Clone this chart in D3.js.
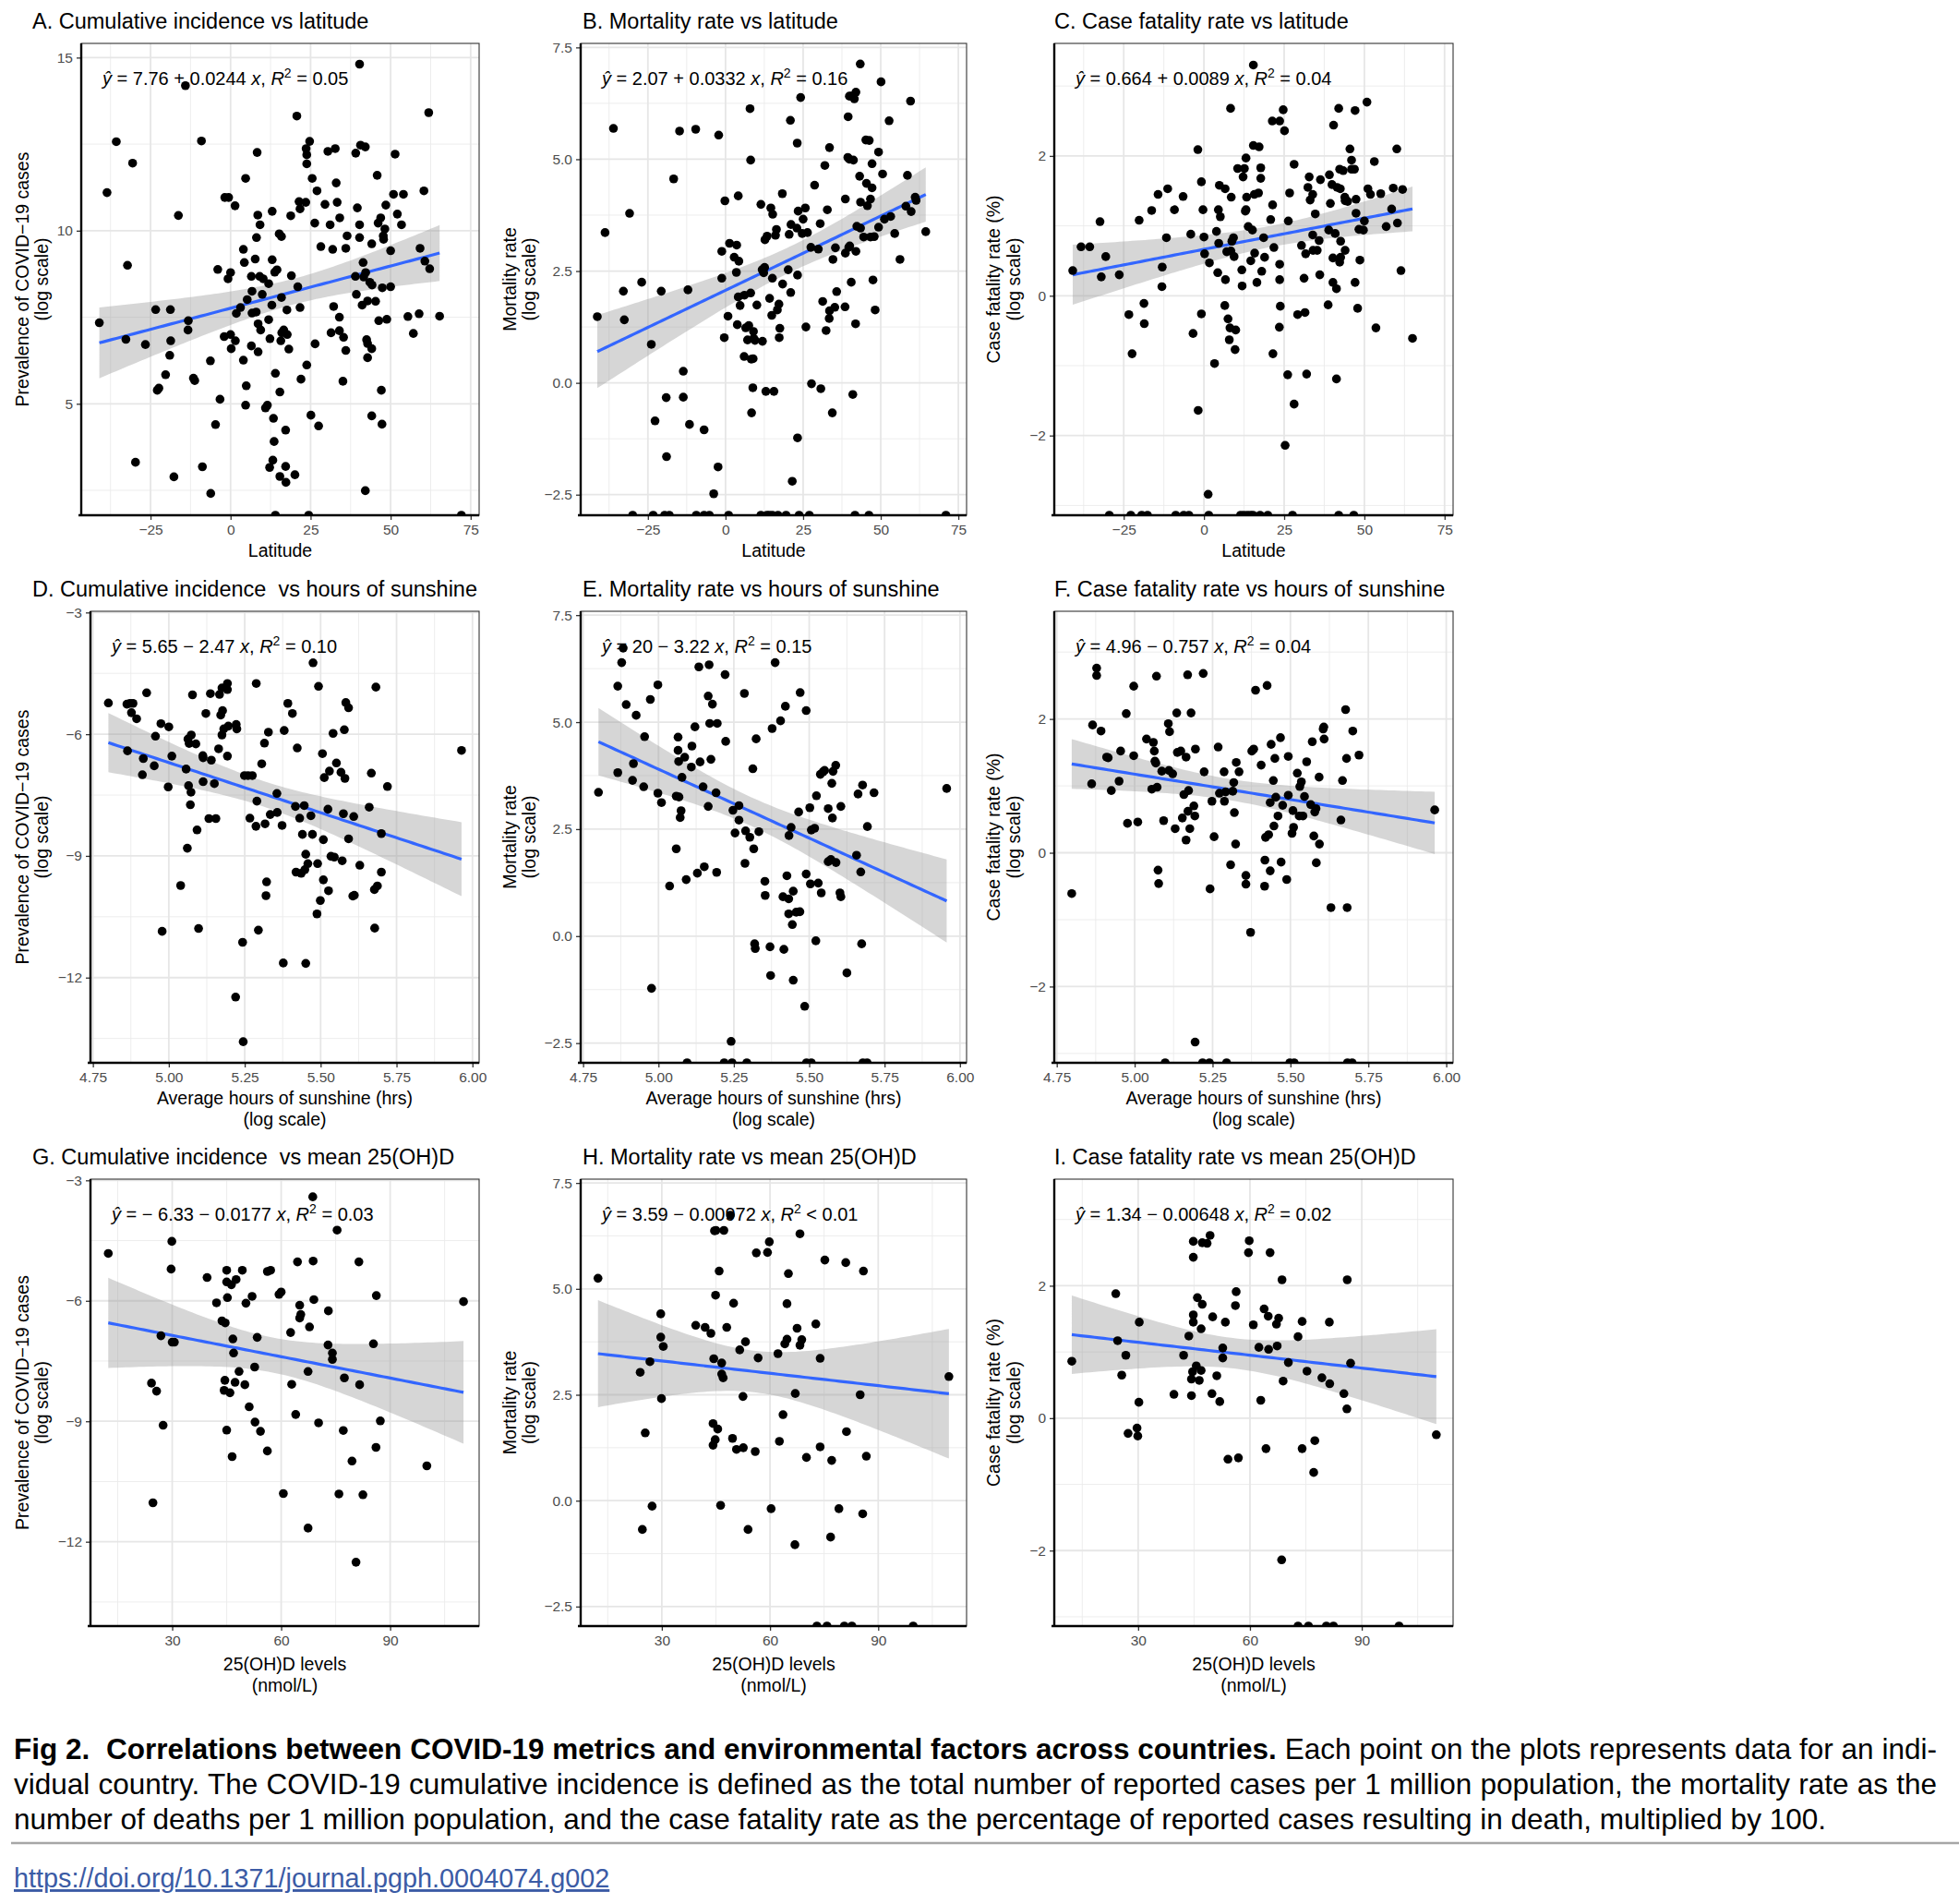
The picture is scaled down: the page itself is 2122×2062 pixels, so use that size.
<!DOCTYPE html>
<html>
<head>
<meta charset="utf-8">
<script src="https://cdn.jsdelivr.net/npm/d3@7"></script>
<style>
body { margin: 0; background: #fff; }
svg { display: block; font-family: "Liberation Sans", Arial, Helvetica, sans-serif; }
text { white-space: pre; }
</style>
</head>
<body>
<svg id="fig" width="2122" height="2062"></svg>
<script>
// ---- data: [x, y] per country ----
// A. latitude vs cumulative incidence (log)
var incLat = [[-41,7.34],[-38.6,11.1],[-35.7,12.57],[-32.7,6.86],[-32.2,9.0],[-30.6,11.95],[-29.7,3.31],[-26.6,6.71],[-23.4,7.72],[-22.9,5.39],[-22.4,5.45],[-20.3,5.84],[-19.0,6.40],[-18.8,7.72],[-18.7,6.82],[-17.7,2.89],[-16.3,10.44],[-14.1,14.19],[-13.2,7.40],[-13.3,7.13],[-11.6,5.74],[-11.2,5.67],[-9.1,12.59],[-8.8,3.18],[-6.3,6.24],[-6.2,2.41],[-4.7,4.40],[-4.0,8.88],[-3.3,5.13],[-1.8,10.96],[-0.6,10.96],[-2.0,6.94],[-0.8,8.61],[0,8.79],[0,7.0],[0.2,6.59],[1.5,6.82],[1.4,10.72],[1.8,7.61],[3.1,7.78],[4.0,6.26],[4.0,9.46],[4.3,9.08],[4.7,11.51],[4.7,4.96],[4.9,5.52],[5.2,8.01],[6.5,8.68],[6.5,6.67],[6.7,7.62],[6.7,8.25],[7.7,9.18],[8.0,7.65],[8.3,12.26],[8.1,9.80],[8.5,10.45],[8.6,6.50],[8.6,7.31],[9.1,8.68],[9.2,10.17],[9.4,7.13],[9.9,8.16],[10.2,8.61],[10.9,4.88],[11.5,4.96],[11.9,8.47],[11.9,7.43],[12.2,3.16],[12.3,6.88],[12.9,7.85],[13.0,10.56],[13.0,9.16],[13.2,3.37],[13.4,4.58],[13.6,3.91],[13.8,8.80],[14.0,5.88],[14.5,8.87],[15.2,9.91],[15.9,9.83],[15.4,5.34],[15.4,2.90],[15.7,6.82],[15.9,8.07],[16.0,7.05],[16.6,7.13],[17.2,4.24],[17.2,3.19],[17.3,2.73],[17.6,7.71],[17.7,7.00],[18.2,6.58],[19.0,8.70],[18.8,10.43],[20.1,2.95],[20.7,13.31],[21.0,8.38],[21.4,10.84],[21.7,10.63],[21.7,7.78],[22.0,5.71],[23.5,10.82],[23.6,12.37],[23.8,12.19],[23.8,11.93],[23.8,6.12],[24.7,12.58],[25.1,4.67],[25.5,11.51],[26.3,10.22],[26.4,6.73],[27.0,11.15],[27.5,4.36],[28.2,9.54],[29.5,10.76],[30.4,12.29],[31.1,10.17],[31.4,7.05],[31.9,9.46],[32.2,7.81],[32.7,12.37],[33.0,11.38],[33.3,10.82],[34.0,7.50],[34.0,7.11],[34.1,10.37],[35.1,5.65],[35.3,6.92],[36.0,6.54],[36.0,9.49],[36.4,9.85],[39.0,8.68],[39.1,12.24],[39.3,8.16],[39.6,10.66],[40.3,14.81],[40.3,10.17],[40.3,9.80],[40.6,12.47],[41.1,7.85],[41.4,9.08],[41.6,8.66],[42.1,12.42],[42.1,2.49],[42.2,8.79],[42.5,6.85],[42.8,6.74],[42.8,6.33],[42.8,7.97],[43.5,8.51],[44.1,4.65],[44.1,6.59],[44.1,9.62],[44.2,8.43],[45.3,7.96],[45.8,11.60],[46.1,10.22],[46.3,7.40],[46.9,10.37],[47.1,5.39],[47.3,4.41],[47.4,8.35],[47.7,9.85],[47.8,9.75],[48.2,10.05],[48.5,10.74],[48.8,7.44],[50.0,8.38],[50.0,9.42],[50.9,11.05],[51.4,12.21],[52.1,10.48],[53.4,10.17],[54.0,11.05],[55.4,7.52],[57.1,7.03],[58.9,7.60],[59.2,9.49],[60.4,11.15],[60.7,9.12],[61.9,13.41],[62.2,8.90],[65.3,7.53]];
var incLatZero = [14.0, 24.4, 72.1];

// B. latitude vs mortality rate (log)
var mortLat = [[-41.3,1.48],[-38.8,3.36],[-36.1,5.69],[-32.9,2.05],[-32.6,1.41],[-30.9,3.79],[-27.0,2.25],[-23.9,0.86],[-22.7,-0.85],[-20.7,2.05],[-19.1,-0.33],[-19.0,-1.65],[-16.7,4.56],[-14.8,5.63],[-13.6,0.26],[-13.6,-0.32],[-12.1,2.08],[-11.6,-0.93],[-9.6,5.67],[-6.9,-1.05],[-3.8,-2.48],[-2.4,-1.88],[-2.2,5.54],[-1.2,2.94],[-1.2,2.34],[-0.4,1.01],[-0.2,4.07],[0.8,1.49],[1.3,3.12],[2.8,2.81],[3.6,3.08],[3.5,2.47],[3.8,1.30],[4.1,4.18],[4.3,2.72],[4.1,1.92],[4.7,1.73],[6.0,0.59],[6.1,1.96],[6.5,1.23],[7.5,1.28],[7.1,0.96],[7.9,6.13],[8.1,4.98],[8.1,2.01],[8.3,0.53],[8.4,-0.67],[8.9,0.54],[8.8,-0.11],[9.0,1.15],[9.1,0.99],[9.5,0.95],[10.1,1.74],[11.4,3.99],[11.8,2.53],[12.3,2.46],[12.6,2.58],[11.9,0.93],[12.7,3.20],[13.0,-0.19],[13.4,3.28],[14.2,1.89],[14.6,3.91],[14.9,1.51],[15.2,3.77],[15.1,2.34],[15.6,-0.19],[16.1,3.30],[16.4,3.43],[16.7,1.63],[17.2,1.76],[17.3,1.01],[17.5,1.22],[18.3,4.23],[18.4,2.21],[20.2,2.53],[20.5,3.32],[20.9,5.87],[21.0,2.02],[21.1,3.54],[21.5,-2.20],[23.0,3.46],[23.1,5.36],[23.2,2.41],[23.2,-1.23],[23.4,3.84],[24.2,6.38],[24.7,3.34],[25.0,3.66],[25.7,3.91],[25.9,1.25],[26.4,3.36],[27.5,3.03],[27.7,-0.02],[28.7,4.42],[29.9,2.99],[30.5,3.56],[30.7,-0.13],[31.3,1.82],[32.0,4.86],[32.4,1.17],[32.8,3.87],[33.4,1.44],[33.5,1.61],[33.5,5.26],[34.4,-0.67],[34.6,2.76],[35.2,1.69],[35.4,3.02],[35.8,2.04],[38.5,1.70],[38.6,4.11],[38.6,2.90],[39.4,5.04],[39.9,5.00],[39.5,5.95],[39.9,6.41],[40.5,6.41],[39.7,3.03],[40.0,3.06],[40.5,2.25],[41.0,-0.26],[41.2,4.98],[41.5,6.35],[41.9,1.32],[42.0,6.50],[42.0,2.94],[42.3,3.50],[43.2,4.62],[43.4,7.13],[43.5,3.46],[43.5,4.04],[44.5,3.26],[45.2,5.43],[46.3,5.42],[45.4,4.46],[45.7,3.96],[46.7,4.11],[46.7,3.26],[47.2,4.90],[47.2,4.36],[47.5,2.30],[47.9,3.27],[48.2,1.63],[49.3,5.16],[49.3,3.48],[50.1,6.73],[50.6,4.67],[51.2,3.66],[52.7,5.86],[53.2,3.72],[54.5,3.34],[56.2,2.76],[58.1,3.95],[58.6,4.64],[59.6,6.30],[59.8,3.83],[61.1,4.15],[61.4,4.08],[64.5,3.38]];
var mortLatZero = [-29.9,-23.3,-19.6,-18.1,-9.4,-6.9,-5.2,1.0,11.4,13.3,14.1,15.1,16.9,19.5,23.7,27.0,41.7,46.2,71.0];

// C. latitude vs case fatality rate (log)
var cfrLat = [[-40.9,0.36],[-38.3,0.70],[-35.6,0.70],[-32.4,1.06],[-32.0,0.27],[-30.6,0.56],[-26.4,0.30],[-23.4,-0.27],[-22.4,-0.83],[-20.2,1.08],[-18.7,-0.11],[-18.6,-0.40],[-16.3,1.22],[-14.3,1.45],[-13.1,0.13],[-13.0,0.41],[-11.7,0.83],[-11.3,1.53],[-9.2,1.23],[-6.5,1.42],[-4.1,0.88],[-3.4,-0.54],[-1.9,2.09],[-1.8,-1.64],[-0.8,-0.26],[-0.8,1.63],[-0.3,1.23],[0,0.84],[0.2,0.60],[1.3,-2.84],[1.7,0.47],[3.3,-0.97],[3.9,0.92],[4.3,0.33],[4.5,1.23],[4.6,0.75],[4.8,1.58],[5.1,1.13],[6.6,1.53],[6.5,-0.14],[6.7,0.23],[7.1,0.63],[7.5,-0.33],[7.9,-0.63],[8.1,-0.46],[8.3,2.68],[8.4,0.64],[8.5,1.41],[8.7,0.78],[9.2,0.83],[9.4,0.56],[9.7,-0.77],[9.9,-0.49],[10.5,1.82],[11.8,0.37],[11.9,0.14],[12.2,1.70],[12.6,1.82],[12.9,1.21],[13.1,1.23],[13.1,1.97],[13.3,1.41],[13.8,0.99],[14.6,0.50],[15.1,0.94],[15.4,3.30],[15.4,2.15],[15.7,1.45],[15.8,0.61],[16.5,0.19],[17.0,1.47],[17.2,2.13],[17.7,1.83],[17.7,1.68],[18.0,0.35],[18.6,0.83],[18.9,0.55],[20.8,1.09],[21.3,2.50],[21.4,1.30],[21.5,-0.83],[21.8,0.69],[23.6,2.50],[23.6,0.45],[23.6,0.23],[23.8,-0.15],[23.5,-0.45],[24.7,2.66],[25.1,2.36],[25.3,-2.14],[26.1,-1.13],[26.3,1.07],[26.7,1.47],[28.1,1.88],[28.1,-1.55],[29.2,-0.27],[30.4,0.72],[31.2,0.25],[31.5,-0.24],[31.7,0.60],[32.0,-1.12],[32.4,1.55],[32.8,1.70],[33.1,1.37],[33.9,0.87],[33.9,1.45],[34.0,0.65],[34.7,1.17],[35.3,0.65],[35.9,0.79],[36.1,0.30],[36.3,1.66],[38.7,-0.13],[39.1,1.73],[39.4,1.32],[38.9,0.94],[39.9,1.59],[40.2,0.19],[40.2,0.54],[40.4,2.44],[40.9,0.89],[41.3,0.10],[41.3,-1.19],[41.5,1.55],[42.0,2.68],[42.3,1.81],[42.5,1.53],[42.6,0.78],[42.6,0.55],[42.3,0.48],[43.4,1.79],[43.9,1.41],[44.0,0.65],[44.0,1.36],[44.8,1.35],[45.5,2.10],[46.0,1.81],[46.0,1.94],[46.9,1.81],[47.1,0.19],[47.1,2.65],[47.4,1.38],[47.4,1.18],[47.9,-0.18],[48.3,0.95],[48.6,0.51],[49.7,0.94],[50.0,1.07],[50.8,2.77],[51.1,1.53],[51.9,1.45],[53.1,1.92],[53.6,-0.46],[55.1,1.46],[56.8,0.99],[58.5,1.24],[59.0,1.54],[60.1,2.10],[60.3,1.04],[61.4,0.36],[61.9,1.52],[65.0,-0.61]];
var cfrLatZero = [-29.5,-22.8,-19.4,-17.6,-8.8,-6.3,-4.7,1.5,11.4,12.4,13.5,14.5,15.3,17.5,19.9,27.6,42.0,46.7];

// D. sunshine (log) vs cumulative incidence (log)
var incSun = [[4.801,-5.23],[4.862,-5.26],[4.872,-5.24],[4.882,-5.24],[4.877,-5.47],[4.894,-5.62],[4.864,-6.41],[4.927,-4.98],[4.956,-6.05],[4.916,-6.60],[4.974,-5.74],[5.000,-5.82],[4.952,-6.78],[5.010,-6.54],[4.913,-7.00],[4.998,-7.30],[4.978,-10.86],[5.039,-9.73],[5.061,-8.81],[5.057,-6.86],[5.063,-6.12],[5.074,-6.02],[5.067,-6.23],[5.065,-7.27],[5.073,-7.43],[5.071,-7.74],[5.078,-5.03],[5.089,-6.24],[5.093,-8.36],[5.098,-10.79],[5.112,-6.53],[5.113,-7.17],[5.113,-6.58],[5.122,-5.49],[5.132,-8.08],[5.155,-8.08],[5.137,-5.00],[5.140,-6.64],[5.150,-7.22],[5.164,-6.36],[5.167,-5.02],[5.171,-5.53],[5.175,-6.02],[5.175,-4.86],[5.177,-5.42],[5.181,-5.87],[5.193,-4.90],[5.193,-4.75],[5.193,-6.54],[5.196,-5.80],[5.222,-5.76],[5.224,-5.87],[5.220,-12.48],[5.243,-11.13],[5.245,-13.58],[5.249,-7.02],[5.261,-7.02],[5.275,-7.02],[5.267,-8.07],[5.288,-4.75],[5.290,-7.65],[5.287,-8.27],[5.295,-10.83],[5.306,-6.73],[5.315,-6.22],[5.317,-8.21],[5.322,-9.64],[5.320,-9.98],[5.328,-5.95],[5.334,-7.98],[5.357,-7.93],[5.356,-7.46],[5.373,-8.25],[5.377,-11.64],[5.380,-5.91],[5.392,-5.24],[5.407,-5.49],[5.417,-7.78],[5.423,-6.34],[5.419,-9.40],[5.431,-8.07],[5.436,-9.43],[5.440,-8.47],[5.446,-7.76],[5.448,-9.34],[5.451,-11.65],[5.451,-8.96],[5.458,-9.19],[5.468,-8.01],[5.473,-8.47],[5.475,-4.24],[5.488,-10.43],[5.490,-9.19],[5.493,-4.82],[5.499,-10.10],[5.506,-6.48],[5.509,-8.60],[5.509,-9.59],[5.512,-7.07],[5.524,-7.85],[5.526,-9.86],[5.529,-6.91],[5.534,-9.01],[5.545,-9.03],[5.541,-5.98],[5.552,-6.71],[5.567,-6.94],[5.571,-9.12],[5.575,-7.96],[5.578,-5.89],[5.580,-7.09],[5.583,-5.22],[5.592,-5.35],[5.592,-8.58],[5.606,-9.99],[5.611,-9.97],[5.609,-8.03],[5.629,-9.23],[5.660,-7.80],[5.667,-6.96],[5.677,-9.83],[5.687,-9.74],[5.678,-10.78],[5.682,-4.84],[5.700,-8.45],[5.700,-9.40],[5.720,-7.29],[5.964,-6.40]];

// E. sunshine (log) vs mortality rate (log)
var mortSun = [[4.801,3.36],[4.883,6.73],[4.865,5.84],[4.865,3.82],[4.878,6.39],[4.893,5.41],[4.914,3.64],[4.917,4.03],[4.926,5.16],[4.954,4.66],[4.951,3.49],[4.973,5.53],[4.977,-1.22],[4.998,5.87],[4.998,3.34],[5.010,3.12],[5.037,1.17],[5.059,2.04],[5.059,3.27],[5.065,4.65],[5.065,4.34],[5.067,4.08],[5.068,3.25],[5.072,2.77],[5.075,2.93],[5.078,3.71],[5.087,4.18],[5.092,1.32],[5.109,3.95],[5.111,4.44],[5.121,4.89],[5.129,1.47],[5.134,6.29],[5.138,4.07],[5.148,3.49],[5.152,1.62],[5.165,3.03],[5.168,6.34],[5.165,5.61],[5.170,4.97],[5.174,4.13],[5.179,5.42],[5.191,3.35],[5.193,1.49],[5.195,4.97],[5.221,6.11],[5.223,4.55],[5.241,-2.46],[5.247,2.94],[5.254,2.41],[5.267,3.05],[5.267,2.71],[5.285,5.67],[5.287,1.70],[5.289,2.46],[5.303,2.31],[5.313,3.91],[5.316,2.04],[5.319,-0.18],[5.321,-0.29],[5.324,4.61],[5.333,2.44],[5.353,1.28],[5.354,0.95],[5.370,-0.25],[5.372,-0.92],[5.377,4.85],[5.387,6.39],[5.405,5.03],[5.413,0.92],[5.416,-0.31],[5.421,5.37],[5.426,1.41],[5.432,0.87],[5.432,0.52],[5.433,2.35],[5.440,2.54],[5.444,0.27],[5.447,1.05],[5.447,-1.03],[5.457,0.56],[5.465,2.90],[5.469,0.57],[5.470,5.69],[5.485,-1.64],[5.490,5.27],[5.490,1.45],[5.502,3.00],[5.504,1.22],[5.507,2.48],[5.518,2.52],[5.522,-0.11],[5.524,3.28],[5.530,1.24],[5.537,3.78],[5.546,3.84],[5.540,1.01],[5.551,3.87],[5.563,2.98],[5.563,1.74],[5.572,1.79],[5.575,3.57],[5.577,2.76],[5.579,3.85],[5.588,3.99],[5.589,1.72],[5.602,1.01],[5.605,0.92],[5.605,3.03],[5.625,-0.86],[5.657,1.89],[5.662,3.32],[5.671,1.50],[5.674,-0.18],[5.677,3.53],[5.693,2.56],[5.715,3.35],[5.956,3.45]];
var mortSunZero = [5.095,5.218,5.244,5.293,5.491,5.507,5.678,5.692];

// F. sunshine (log) vs case fatality rate (log)
var cfrSun = [[4.798,-0.61],[4.862,1.03],[4.865,1.91],[4.878,2.76],[4.878,2.65],[4.892,1.82],[4.910,1.43],[4.915,1.42],[4.925,0.93],[4.950,1.07],[4.955,1.52],[4.973,2.08],[4.977,0.44],[4.997,2.49],[4.997,1.45],[5.010,0.46],[5.038,1.70],[5.055,0.95],[5.060,1.65],[5.063,1.52],[5.065,1.37],[5.068,1.34],[5.070,2.64],[5.072,0.98],[5.075,-0.26],[5.077,-0.46],[5.087,1.22],[5.093,0.48],[5.108,1.93],[5.112,1.81],[5.110,1.23],[5.122,1.18],[5.130,0.36],[5.135,2.09],[5.137,1.50],[5.148,1.52],[5.153,0.52],[5.158,0.87],[5.165,0.19],[5.165,1.43],[5.170,2.66],[5.171,0.62],[5.173,0.93],[5.177,0.36],[5.181,2.09],[5.190,0.70],[5.193,0.55],[5.194,-2.83],[5.195,1.55],[5.220,2.68],[5.223,1.21],[5.242,-0.54],[5.248,0.77],[5.255,0.24],[5.268,1.58],[5.272,0.89],[5.287,1.21],[5.288,0.77],[5.292,0.91],[5.308,-0.18],[5.315,0.92],[5.318,1.05],[5.320,0.60],[5.324,0.13],[5.326,1.35],[5.335,1.21],[5.357,-0.34],[5.357,-0.47],[5.376,1.52],[5.382,1.55],[5.372,-1.19],[5.388,2.43],[5.406,1.31],[5.418,-0.11],[5.417,-0.50],[5.420,0.23],[5.425,2.50],[5.430,0.27],[5.435,0.75],[5.438,1.62],[5.435,-0.27],[5.445,1.08],[5.447,0.40],[5.450,1.41],[5.453,0.83],[5.460,0.55],[5.468,1.72],[5.470,-0.14],[5.475,0.71],[5.488,-0.40],[5.493,1.44],[5.493,0.86],[5.505,0.29],[5.508,0.63],[5.510,0.38],[5.522,1.19],[5.530,0.99],[5.535,1.06],[5.528,0.55],[5.540,0.55],[5.545,0.84],[5.552,1.36],[5.565,0.72],[5.570,1.66],[5.575,0.25],[5.578,0.61],[5.582,0.66],[5.583,-0.15],[5.592,1.13],[5.593,0.13],[5.605,1.85],[5.607,1.88],[5.608,1.70],[5.630,-0.82],[5.662,0.49],[5.667,1.08],[5.677,2.14],[5.680,1.41],[5.682,-0.82],[5.700,1.82],[5.720,1.46],[5.963,0.64]];
var cfrSunZero = [5.098,5.218,5.240,5.295,5.498,5.512,5.683,5.698];

// G. 25(OH)D vs cumulative incidence (log)
var incVitD = [[12.4,-4.82],[24.3,-8.05],[24.7,-11.03],[25.7,-8.25],[26.9,-6.87],[27.5,-9.10],[29.9,-4.52],[29.7,-5.21],[30.0,-7.03],[30.6,-7.03],[39.6,-5.42],[42.2,-6.05],[43.7,-6.50],[44.5,-7.98],[44.6,-6.55],[44.3,-8.23],[45.0,-5.24],[45.0,-5.53],[45.2,-5.92],[45.0,-9.22],[45.9,-8.29],[46.3,-5.60],[46.7,-6.95],[46.5,-9.88],[46.9,-7.30],[47.3,-8.03],[47.6,-5.47],[48.4,-7.76],[49.3,-5.24],[50.0,-8.09],[50.3,-6.06],[51.2,-8.64],[52.0,-5.89],[52.7,-7.65],[52.8,-9.02],[53.4,-6.91],[54.3,-9.25],[56.2,-5.27],[57.1,-5.24],[56.2,-9.74],[59.4,-5.84],[60.0,-5.78],[60.6,-10.80],[62.6,-6.79],[62.9,-8.08],[64.0,-8.83],[64.5,-5.03],[65.1,-6.43],[65.4,-6.34],[65.1,-6.11],[67.4,-7.76],[67.4,-11.66],[67.8,-6.65],[68.8,-5.01],[68.7,-3.41],[69.0,-5.97],[70.3,-9.04],[73.0,-6.25],[72.9,-7.10],[74.1,-7.30],[74.1,-7.46],[75.4,-4.24],[75.9,-10.81],[77.1,-9.23],[77.4,-7.92],[79.5,-9.99],[80.6,-12.51],[81.4,-5.03],[81.6,-8.09],[82.5,-10.83],[85.4,-7.07],[86.1,-9.65],[86.2,-5.87],[87.3,-8.99],[100.1,-10.11],[110.2,-6.02]];

// H. 25(OH)D vs mortality rate (log)
var mortVitD = [[12.3,5.25],[24.0,3.03],[24.6,-0.68],[25.4,1.60],[26.7,3.28],[27.3,-0.13],[29.7,3.86],[29.7,4.41],[29.9,2.41],[30.4,3.64],[39.4,4.14],[42.0,4.09],[43.6,3.95],[44.2,1.82],[44.2,1.31],[44.4,3.35],[44.6,6.37],[45.0,6.38],[44.9,4.85],[44.8,1.44],[45.5,1.69],[45.9,5.42],[46.3,-0.11],[46.6,3.25],[46.6,2.99],[47.0,2.90],[47.2,6.38],[48.0,4.09],[49.0,6.74],[49.9,4.66],[49.6,1.47],[50.7,1.21],[51.6,3.56],[52.5,2.46],[52.6,1.25],[53.2,3.75],[53.9,-0.68],[55.9,1.16],[56.2,5.85],[56.7,3.37],[59.3,5.86],[59.8,6.11],[60.3,-0.19],[62.2,3.47],[62.6,1.40],[63.6,2.03],[64.1,3.70],[64.7,4.65],[64.7,3.81],[65.1,5.36],[66.9,-1.04],[67.0,2.53],[67.5,4.07],[68.3,6.30],[68.3,3.67],[68.8,3.80],[70.1,1.02],[72.7,4.17],[73.9,3.36],[73.9,1.27],[75.2,5.68],[76.8,-0.86],[77.1,0.95],[79.1,-0.19],[81.0,5.62],[81.2,1.63],[85.0,2.50],[85.7,-0.31],[85.9,5.42],[86.7,1.05],[109.6,2.93]];
var mortVitDZero = [73.0,75.8,80.6,82.7,99.7];

// I. 25(OH)D vs case fatality rate (log)
var cfrVitD = [[12.2,0.86],[24.0,1.88],[24.5,1.17],[25.6,0.65],[26.7,0.95],[27.3,-0.23],[29.7,-0.15],[29.9,-0.27],[30.3,1.45],[30.2,0.24],[39.6,0.36],[42.2,0.95],[43.6,1.24],[44.3,0.34],[44.3,0.59],[44.6,0.70],[44.8,2.67],[44.8,2.43],[44.8,1.56],[44.8,1.45],[45.6,0.79],[45.9,1.82],[46.4,0.57],[46.9,1.35],[46.9,0.72],[47.2,1.72],[47.2,2.65],[48.5,2.64],[49.3,2.76],[49.8,0.37],[50.0,1.53],[51.1,0.64],[51.9,0.25],[52.7,1.06],[52.7,0.91],[53.4,1.45],[54.1,-0.62],[56.1,1.70],[56.3,1.91],[56.9,-0.60],[59.6,2.50],[59.8,2.68],[60.9,1.41],[62.4,1.07],[62.9,0.27],[63.8,1.65],[64.3,-0.46],[64.9,1.54],[65.0,1.04],[65.4,2.50],[67.1,1.42],[67.3,1.09],[67.7,1.51],[68.6,2.09],[68.5,-2.14],[68.9,0.56],[70.3,0.84],[72.9,1.23],[74.0,1.46],[74.0,-0.46],[75.3,0.71],[77.1,-0.82],[77.4,-0.34],[79.3,0.61],[81.4,0.52],[81.3,1.45],[85.2,0.37],[86.0,0.14],[86.1,2.09],[87.0,0.83],[110.0,-0.25]];
var cfrVitDZero = [72.9,75.7,80.5,82.4,100.0];

// fitted lines printed on each panel (A..I)
var fitIntercepts = [7.76, 2.07, 0.664, 5.65, 20, 4.96, -6.33, 3.59, 1.34];
var fitSlopes = [0.0244, 0.0332, 0.0089, -2.47, -3.22, -0.757, -0.0177, -0.00972, -0.00648];
var fitText = ["7.76 + 0.0244", "2.07 + 0.0332", "0.664 + 0.0089", "5.65 \u2212 2.47", "20 \u2212 3.22",
  "4.96 \u2212 0.757", "\u2212 6.33 \u2212 0.0177", "3.59 \u2212 0.00972", "1.34 \u2212 0.00648"];
var r2Text = ["= 0.05", "= 0.16", "= 0.04", "= 0.10", "= 0.15", "= 0.04", "= 0.03", "< 0.01", "= 0.02"];

var panelTitles = ["A. Cumulative incidence vs latitude", "B. Mortality rate vs latitude", "C. Case fatality rate vs latitude",
  "D. Cumulative incidence  vs hours of sunshine", "E. Mortality rate vs hours of sunshine", "F. Case fatality rate vs hours of sunshine",
  "G. Cumulative incidence  vs mean 25(OH)D", "H. Mortality rate vs mean 25(OH)D", "I. Case fatality rate vs mean 25(OH)D"];

var xTitles = [["Latitude"], ["Average hours of sunshine (hrs)", "(log scale)"], ["25(OH)D levels", "(nmol/L)"]];
var yTitles = [["Prevalence of COVID\u221219 cases", "(log scale)"], ["Mortality rate", "(log scale)"], ["Case fatality rate (%)", "(log scale)"]];

var xTicks = [[-25, 0, 25, 50, 75], [4.75, 5.00, 5.25, 5.50, 5.75, 6.00], [30, 60, 90]];
var xFormats = ["d", ".2f", "d"];
var xDomains = [[-46.65, 77.65], [4.742, 6.022], [7.5, 114.5]];

var yTicksA = [5, 10, 15];
var yTicksInc = [-12, -9, -6, -3];
var yTicksMort = [-2.5, 0, 2.5, 5, 7.5];
var yTicksCfr = [-2, 0, 2];

var panels = [
  { pts: incLat, zero: incLatZero, yTicks: yTicksA, yFmt: "d", yDom: [1.78, 15.41] },
  { pts: mortLat, zero: mortLatZero, yTicks: yTicksMort, yFmt: ".1f", yDom: [-2.96, 7.59] },
  { pts: cfrLat, zero: cfrLatZero, yTicks: yTicksCfr, yFmt: "d", yDom: [-3.14, 3.61] },
  { pts: incSun, zero: [], yTicks: yTicksInc, yFmt: "d", yDom: [-14.1, -2.97] },
  { pts: mortSun, zero: mortSunZero, yTicks: yTicksMort, yFmt: ".1f", yDom: [-2.96, 7.59] },
  { pts: cfrSun, zero: cfrSunZero, yTicks: yTicksCfr, yFmt: "d", yDom: [-3.14, 3.61] },
  { pts: incVitD, zero: [], yTicks: yTicksInc, yFmt: "d", yDom: [-14.1, -2.97] },
  { pts: mortVitD, zero: mortVitDZero, yTicks: yTicksMort, yFmt: ".1f", yDom: [-2.96, 7.59] },
  { pts: cfrVitD, zero: cfrVitDZero, yTicks: yTicksCfr, yFmt: "d", yDom: [-3.14, 3.61] }
];

// ---- layout (pixels) ----
var colRight = [519, 1047, 1574];
var colLeft = [[88, 98, 98], [629, 629, 629], [1142, 1142, 1142]];
var rowTop = [47, 662, 1277];
var rowBottom = [558, 1151, 1761];
var titleX = [35, 631, 1142];
var yTitleX = [[24, 45], [552, 573], [1076, 1098]];
var xTitleShift = [0, 0, 3];

var svg = d3.select("#fig");
svg.append("rect").attr("width", 2122).attr("height", 2062).attr("fill", "#fff");

function minorTicks(ticks, dom) {
  var step = ticks[1] - ticks[0], out = [];
  for (var v = ticks[0] - step / 2; v <= dom[1]; v += step) if (v >= dom[0]) out.push(v);
  return out;
}

// 95% confidence band of the fitted mean, like geom_smooth(method = "lm")
function confBand(pts, a, b) {
  var n = pts.length;
  var xm = d3.mean(pts, function(d) { return d[0]; });
  var sxx = d3.sum(pts, function(d) { return (d[0] - xm) * (d[0] - xm); });
  var sse = d3.sum(pts, function(d) { var r = d[1] - (a + b * d[0]); return r * r; });
  var s = Math.sqrt(sse / (n - 2));
  var t = 1.96 + 2.5 / (n - 2);
  var ext = d3.extent(pts, function(d) { return d[0]; });
  return d3.range(0, 81).map(function(i) {
    var x = ext[0] + (ext[1] - ext[0]) * i / 80;
    var fit = a + b * x;
    var h = t * s * Math.sqrt(1 / n + (x - xm) * (x - xm) / sxx);
    return { x: x, fit: fit, lo: fit - h, hi: fit + h };
  });
}

panels.forEach(function(p, i) {
  var row = Math.floor(i / 3), col = i % 3;
  var left = colLeft[col][row], right = colRight[col], top = rowTop[row], bottom = rowBottom[row];

  var x = d3.scaleLinear().domain(xDomains[row]).range([left, right]);
  var y = d3.scaleLinear().domain(p.yDom).range([bottom, top]);

  var g = svg.append("g").attr("class", "panel");

  g.append("clipPath").attr("id", "clip" + i)
    .append("rect").attr("x", left).attr("y", top).attr("width", right - left).attr("height", bottom - top);

  // grid
  var grid = g.append("g");
  grid.selectAll(".vmin").data(minorTicks(xTicks[row], xDomains[row])).enter().append("line")
    .attr("x1", x).attr("x2", x).attr("y1", top).attr("y2", bottom)
    .attr("stroke", "#ebebeb").attr("stroke-width", 0.9);
  grid.selectAll(".hmin").data(minorTicks(p.yTicks, p.yDom)).enter().append("line")
    .attr("y1", y).attr("y2", y).attr("x1", left).attr("x2", right)
    .attr("stroke", "#ebebeb").attr("stroke-width", 0.9);
  grid.selectAll(".vmaj").data(xTicks[row]).enter().append("line")
    .attr("x1", x).attr("x2", x).attr("y1", top).attr("y2", bottom)
    .attr("stroke", "#e6e6e6").attr("stroke-width", 1.8);
  grid.selectAll(".hmaj").data(p.yTicks).enter().append("line")
    .attr("y1", y).attr("y2", y).attr("x1", left).attr("x2", right)
    .attr("stroke", "#e6e6e6").attr("stroke-width", 1.8);

  var plot = g.append("g").attr("clip-path", "url(#clip" + i + ")");

  // regression ribbon and line
  var band = confBand(p.pts, fitIntercepts[i], fitSlopes[i]);
  plot.append("path").datum(band)
    .attr("d", d3.area().x(function(d) { return x(d.x); }).y0(function(d) { return y(d.lo); }).y1(function(d) { return y(d.hi); }))
    .attr("fill", "#999999").attr("fill-opacity", 0.4);
  plot.append("path").datum(band)
    .attr("d", d3.line().x(function(d) { return x(d.x); }).y(function(d) { return y(d.fit); }))
    .attr("fill", "none").attr("stroke", "#3366ff").attr("stroke-width", 3.2);

  // points
  plot.selectAll(".pt").data(p.pts).enter().append("circle")
    .attr("cx", function(d) { return x(d[0]); }).attr("cy", function(d) { return y(d[1]); })
    .attr("r", 4.8).attr("fill", "#000");
  // zero counts (log = -Inf) sit on the lower panel edge
  plot.selectAll(".zero").data(p.zero).enter().append("circle")
    .attr("cx", function(d) { return x(d); }).attr("cy", y(p.yDom[0]))
    .attr("r", 4.8).attr("fill", "#000");

  // border
  g.append("rect").attr("x", left).attr("y", top).attr("width", right - left).attr("height", bottom - top)
    .attr("fill", "none").attr("stroke", "#333").attr("stroke-width", 1.1);

  // axes
  var xAxis = g.append("g").attr("transform", "translate(0," + bottom + ")")
    .call(d3.axisBottom(x).tickValues(xTicks[row]).tickFormat(d3.format(xFormats[row])).tickSize(5).tickPadding(5));
  var yAxis = g.append("g").attr("transform", "translate(" + left + ",0)")
    .call(d3.axisLeft(y).tickValues(p.yTicks).tickFormat(d3.format(p.yFmt)).tickSize(5).tickPadding(4));
  [xAxis, yAxis].forEach(function(ax) {
    ax.select(".domain").remove();
    ax.selectAll(".tick line").attr("stroke", "#333").attr("stroke-width", 1.3);
    ax.selectAll(".tick text").attr("fill", "#4d4d4d").style("font-size", "15.5px").style("font-family", "Liberation Sans, Arial, sans-serif");
  });
  g.append("line").attr("x1", left - 3).attr("x2", right).attr("y1", bottom).attr("y2", bottom)
    .attr("stroke", "#000").attr("stroke-width", 2.4);
  g.append("line").attr("x1", left).attr("x2", left).attr("y1", top).attr("y2", bottom + 1)
    .attr("stroke", "#000").attr("stroke-width", 2.4);

  // panel title
  g.append("text").attr("x", titleX[col]).attr("y", top - 16)
    .style("font-size", "23.5px").attr("fill", "#000").text(panelTitles[i]);

  // axis titles
  var cx = (left + right) / 2;
  xTitles[row].forEach(function(t, k) {
    g.append("text").attr("x", cx).attr("y", bottom + 45 + xTitleShift[row] + k * 23)
      .attr("text-anchor", "middle").style("font-size", "19.5px").text(t);
  });
  var cy = (top + bottom) / 2;
  yTitles[col].forEach(function(t, k) {
    g.append("text").attr("transform", "translate(" + (yTitleX[col][k] + 7) + "," + cy + ") rotate(-90)")
      .attr("text-anchor", "middle").style("font-size", "19.5px").text(t);
  });

  // fitted equation
  var eq = g.append("text").attr("x", left + 23).attr("y", top + 45).style("font-size", "20px");
  eq.append("tspan").style("font-style", "italic").text("\u0177");
  eq.append("tspan").text(" = " + fitText[i] + " ");
  eq.append("tspan").style("font-style", "italic").text("x");
  eq.append("tspan").text(", ");
  eq.append("tspan").style("font-style", "italic").text("R");
  eq.append("tspan").attr("dy", -8).style("font-size", "14px").text("2");
  eq.append("tspan").attr("dy", 8).text(" " + r2Text[i]);
});

// ---- caption ----
var capLines = [
  [["Fig 2.  Correlations between COVID-19 metrics and environmental factors across countries.", "bold"], [" Each point on the plots represents data for an indi-", "normal"]],
  [["vidual country. The COVID-19 cumulative incidence is defined as the total number of reported cases per 1 million population, the mortality rate as the", "normal"]],
  [["number of deaths per 1 million population, and the case fatality rate as the percentage of reported cases resulting in death, multiplied by 100.", "normal"]]
];
var capBase = [1905, 1943, 1981];
capLines.forEach(function(line, k) {
  var t = svg.append("text").attr("x", 15).attr("y", capBase[k]).style("font-size", "31.5px").attr("fill", "#000");
  line.forEach(function(seg) {
    t.append("tspan").style("font-weight", seg[1]).text(seg[0]);
  });
  if (k < 2) {
    // justified lines: spread the word gaps to the right margin
    var natural = t.node().getComputedTextLength();
    var gaps = line.map(function(s) { return s[0]; }).join("").split(" ").length - 1;
    t.style("word-spacing", ((2098 - 15 - natural) / gaps) + "px");
  }
});
svg.append("line").attr("x1", 12).attr("x2", 2122).attr("y1", 1996).attr("y2", 1996)
  .attr("stroke", "#a6a6a6").attr("stroke-width", 2.5);
svg.append("text").attr("x", 15).attr("y", 2044).style("font-size", "28.8px").attr("fill", "#3b5ba5")
  .style("text-decoration", "underline").text("https://doi.org/10.1371/journal.pgph.0004074.g002");
</script>
</body>
</html>
